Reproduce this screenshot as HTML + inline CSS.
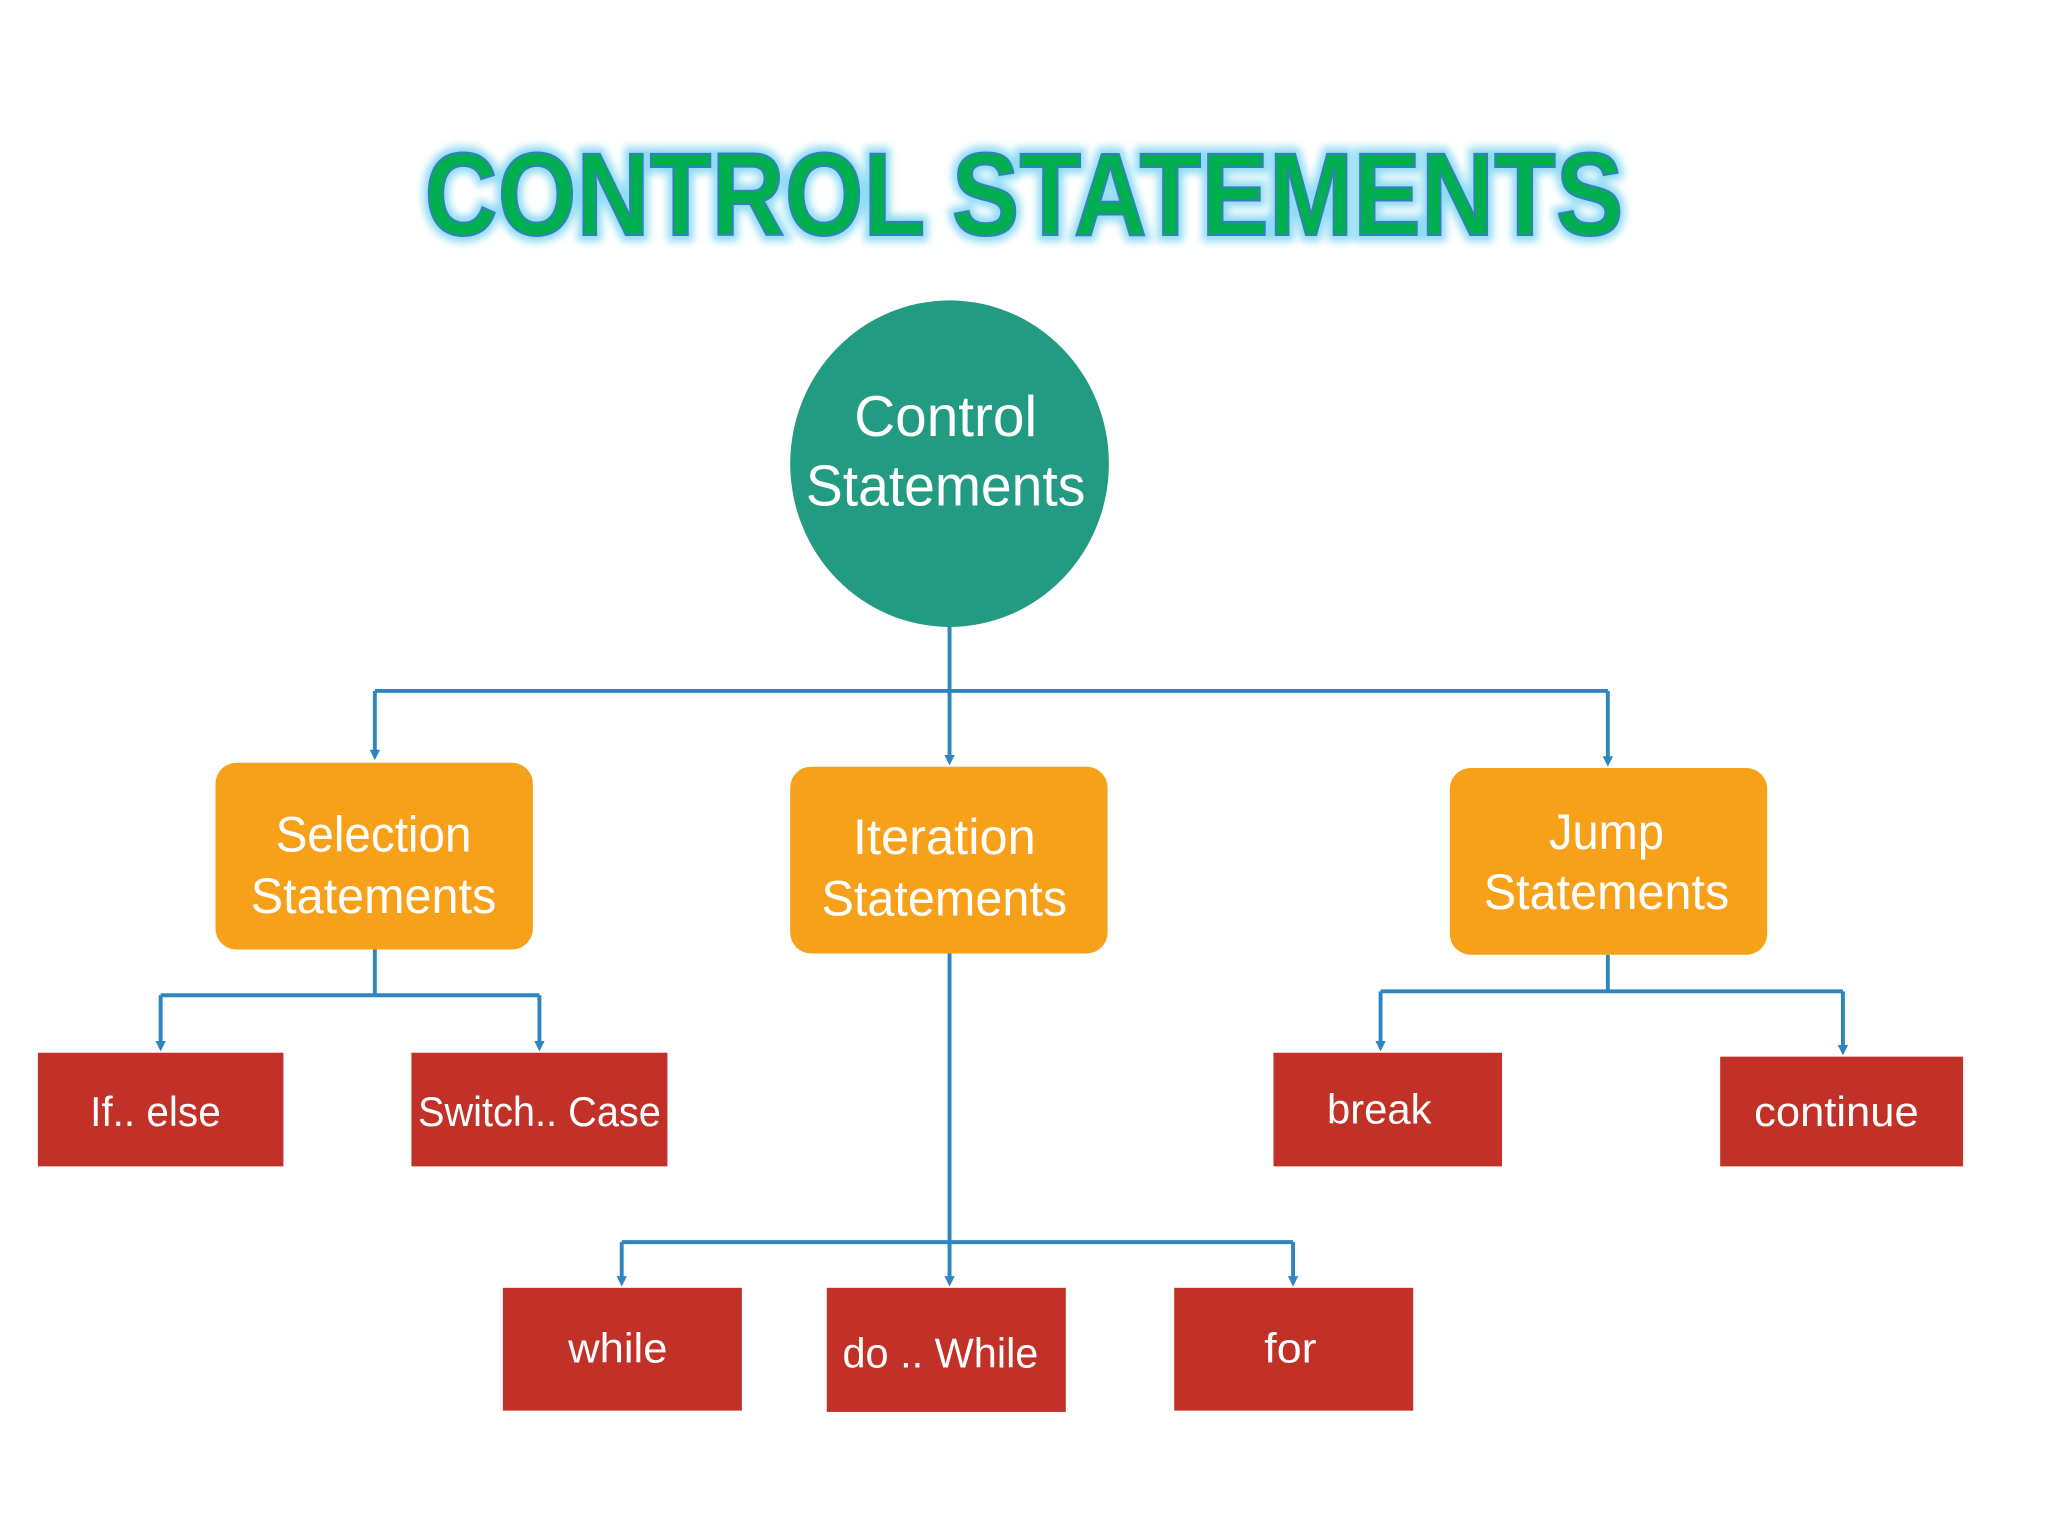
<!DOCTYPE html>
<html><head><meta charset="utf-8">
<style>
html,body{margin:0;padding:0;background:#fff;}
svg{display:block;}
text{font-family:"Liberation Sans",sans-serif;}
</style></head>
<body>
<svg width="2048" height="1536" viewBox="0 0 1568 1176" xmlns="http://www.w3.org/2000/svg">
<defs>
<marker id="a" markerWidth="8" markerHeight="8" refX="4" refY="4" orient="auto" markerUnits="userSpaceOnUse">
<path d="M0,0 L8,4 L0,8 z" fill="#2e86c1"/>
</marker>
<filter id="glow" x="-10%" y="-30%" width="120%" height="160%">
<feGaussianBlur stdDeviation="3"/>
</filter>
</defs>
<rect width="1568" height="1176" fill="#fff"/>
<!-- title -->
<text x="784" y="180" text-anchor="middle" font-size="90" font-weight="bold" textLength="918" lengthAdjust="spacingAndGlyphs" fill="#8fdcf5" stroke="#8fdcf5" stroke-width="10" filter="url(#glow)">CONTROL STATEMENTS</text>
<text x="784" y="180" text-anchor="middle" font-size="90" font-weight="bold" textLength="918" lengthAdjust="spacingAndGlyphs" fill="#00b050" stroke="#3a7bbf" stroke-width="1.5">CONTROL STATEMENTS</text>

<!-- connectors -->
<g stroke="#2e86c1" stroke-width="3" fill="none">
<path d="M727,478 V529"/>
<path d="M287,529 H1231"/>
<path d="M287,529 V578" marker-end="url(#a)"/>
<path d="M727,529 V582" marker-end="url(#a)"/>
<path d="M1231,529 V583" marker-end="url(#a)"/>
<path d="M287,727 V762 M123,762 H413"/>
<path d="M123,762 V801" marker-end="url(#a)"/>
<path d="M413,762 V801" marker-end="url(#a)"/>
<path d="M1231,731 V759 M1057,759 H1411"/>
<path d="M1057,759 V801" marker-end="url(#a)"/>
<path d="M1411,759 V804" marker-end="url(#a)"/>
<path d="M727,730 V951 M476,951 H990"/>
<path d="M476,951 V981" marker-end="url(#a)"/>
<path d="M727,951 V981" marker-end="url(#a)"/>
<path d="M990,951 V981" marker-end="url(#a)"/>
</g>

<!-- circle -->
<ellipse cx="727" cy="355" rx="122" ry="125" fill="#229b82"/>
<g fill="#fff" font-size="44" text-anchor="middle">
<text x="724" y="334" textLength="140" lengthAdjust="spacingAndGlyphs">Control</text>
<text x="724" y="387" textLength="214" lengthAdjust="spacingAndGlyphs">Statements</text>
</g>

<!-- orange boxes -->
<g fill="#f7a11a">
<rect x="165" y="584" width="243" height="143" rx="16"/>
<rect x="605" y="587" width="243" height="143" rx="16"/>
<rect x="1110" y="588" width="243" height="143" rx="16"/>
</g>
<g fill="#fff" font-size="38" text-anchor="middle">
<text x="286" y="652" textLength="150" lengthAdjust="spacingAndGlyphs">Selection</text>
<text x="286" y="699" textLength="188" lengthAdjust="spacingAndGlyphs">Statements</text>
<text x="723" y="654" textLength="140" lengthAdjust="spacingAndGlyphs">Iteration</text>
<text x="723" y="701" textLength="188" lengthAdjust="spacingAndGlyphs">Statements</text>
<text x="1230" y="650" textLength="88" lengthAdjust="spacingAndGlyphs">Jump</text>
<text x="1230" y="696" textLength="188" lengthAdjust="spacingAndGlyphs">Statements</text>
</g>

<!-- red boxes -->
<g fill="#c23127">
<rect x="29" y="806" width="188" height="87"/>
<rect x="315" y="806" width="196" height="87"/>
<rect x="975" y="806" width="175" height="87"/>
<rect x="1317" y="809" width="186" height="84"/>
<rect x="385" y="986" width="183" height="94"/>
<rect x="633" y="986" width="183" height="95"/>
<rect x="899" y="986" width="183" height="94"/>
</g>
<g fill="#fff" font-size="32" text-anchor="middle">
<text x="119" y="862" textLength="100" lengthAdjust="spacingAndGlyphs">If.. else</text>
<text x="413" y="862" textLength="186" lengthAdjust="spacingAndGlyphs">Switch.. Case</text>
<text x="1056" y="860" textLength="80" lengthAdjust="spacingAndGlyphs">break</text>
<text x="1406" y="862" textLength="126" lengthAdjust="spacingAndGlyphs">continue</text>
<text x="473" y="1043" textLength="76" lengthAdjust="spacingAndGlyphs">while</text>
<text x="720" y="1047" textLength="150" lengthAdjust="spacingAndGlyphs">do .. While</text>
<text x="988" y="1043" textLength="40" lengthAdjust="spacingAndGlyphs">for</text>
</g>
</svg>
</body></html>
